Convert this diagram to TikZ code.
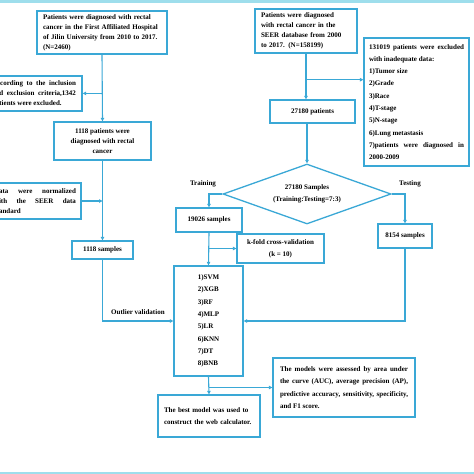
\documentclass[tikz,border=0pt]{standalone}
\usepackage{fontspec}
\setmainfont{Liberation Serif}
\usepackage{tikz}
\usetikzlibrary{arrows.meta,positioning,shapes.geometric,calc}
\usepackage{xcolor}
\definecolor{flowblue}{RGB}{58,168,214}
\definecolor{bandcyan}{RGB}{158,222,236}

\begin{document}
\begin{tikzpicture}[
  x=1pt, y=-1pt,
  stage/.style={rectangle, draw=flowblue, line width=1.3pt, fill=white, inner sep=0pt, font=\fontsize{7}{10}\selectfont\bfseries},
  roomy/.style={font=\fontsize{7}{12.3}\selectfont\bfseries},
  split/.style={diamond, draw=flowblue, line width=1.3pt, fill=white, inner sep=0pt, aspect=2.8, minimum width=168pt, minimum height=60pt, font=\fontsize{7}{12}\selectfont\bfseries, align=center},
  tag/.style={font=\fontsize{7}{9}\selectfont\bfseries},
  edge/.style={-{Triangle[length=3.5pt,width=3.5pt]}, draw=flowblue, line width=1.1pt}
]
\useasboundingbox (0,0) rectangle (474,474);
\clip (0,0) rectangle (474,474);
\fill[bandcyan] (0,0) rectangle (474,2.5);
\fill[bandcyan] (0,471.5) rectangle (474,474);

% left branch: hospital cohort
\node[stage, minimum width=130pt, minimum height=43pt, text width=118pt, align=left] (hosp) at (102,32.5) {Patients were diagnosed with rectal\\ cancer in the First Affiliated Hospital\\ of Jilin University from 2010 to 2017.\\ (N=2460)};
\node[stage, minimum width=96pt, minimum height=35pt, text width=84pt, align=justify] (excl) at (34,93.4) {According to the inclusion\linebreak and exclusion criteria,1342\linebreak patients were excluded.};
\node[stage, minimum width=97pt, minimum height=38pt, align=center] (local) at (102.5,141) {1118 patients were\\ diagnosed with rectal\\ cancer};
\node[stage, minimum width=92pt, minimum height=36pt, text width=82pt, align=justify] (norm) at (35,201) {Data were normalized\linebreak with the SEER data\linebreak standard};
\node[stage, minimum width=61pt, minimum height=18pt] (localset) at (102.5,250) {1118 samples};

% right branch: SEER cohort
\node[stage, minimum width=102pt, minimum height=44pt, text width=90pt, align=left] (seer) at (306,31) {Patients were diagnosed\\ with rectal cancer in the\\ SEER database from 2000\\ to 2017. (N=158199)};
\node[stage, roomy, minimum width=105pt, minimum height=128pt, text width=95pt, align=justify] (drop) at (416.5,102) {131019 patients were excluded\linebreak with inadequate data:\\ 1)Tumor size\\ 2)Grade\\ 3)Race\\ 4)T-stage\\ 5)N-stage\\ 6)Lung metastasis\\ 7)patients were diagnosed in\linebreak 2000-2009};
\node[stage, minimum width=85pt, minimum height=23pt] (cohort) at (312.5,111.5) {27180 patients};
\node[split] (divide) at (307,194) {27180 Samples\\ (Training:Testing=7:3)};
\node[stage, minimum width=66pt, minimum height=24pt] (train) at (209,220) {19026 samples};
\node[stage, roomy, minimum width=87pt, minimum height=29pt, align=center] (kfold) at (280.5,248.5) {k-fold cross-validation\\ (k = 10)};
\node[stage, minimum width=54pt, minimum height=24pt] (test) at (405,236) {8154 samples};

% models and evaluation
\node[stage, roomy, minimum width=69pt, minimum height=110pt, align=left] (models) at (208.5,321) {1)SVM\\ 2)XGB\\ 3)RF\\ 4)MLP\\ 5)LR\\ 6)KNN\\ 7)DT\\ 8)BNB};
\node[stage, roomy, minimum width=102pt, minimum height=42pt, text width=90pt, align=left] (best) at (209,416) {The best model was used to\\ construct the web calculator.};
\node[stage, roomy, minimum width=142pt, minimum height=59pt, text width=128pt, align=justify] (metric) at (344,387.5) {The models were assessed by area under\linebreak the curve (AUC), average precision (AP),\linebreak predictive accuracy, sensitivity, specificity,\linebreak and F1 score.};

\coordinate (fork) at ($(seer.south)!0.57!(seer.south |- cohort.north)$);

\draw[edge] (hosp.south) -- (local.north);
\draw[edge] (hosp.south |- excl.east) -- (excl.east);
\draw[edge] (local.south) -- (localset.north);
\draw[edge] (norm.east) -- (norm.east -| local.south);
\draw[edge] (localset.south) |- (models.west) node[tag, pos=0.75, above=3pt] {Outlier validation};

\draw[edge] (seer.south) -- (seer.south |- cohort.north);
\draw[edge] (fork) -- (fork -| drop.west);
\draw[edge] (cohort.south -| divide.north) -- (divide.north);
\draw[edge] (divide.west) -| (train.north) node[tag, pos=0.5, above=3pt, xshift=-6pt] {Training};
\draw[edge] (divide.east) -| (test.north) node[tag, pos=0.5, above=3pt, xshift=5pt] {Testing};
\draw[edge] (train.south) -- (models.north);
\draw[edge] (train.south |- kfold.west) -- (kfold.west);
\draw[edge] (test.south) |- (models.east);
\draw[edge] (models.south) -- (best.north);
\draw[edge] (models.south |- metric.west) -- (metric.west);
\end{tikzpicture}
\end{document}
